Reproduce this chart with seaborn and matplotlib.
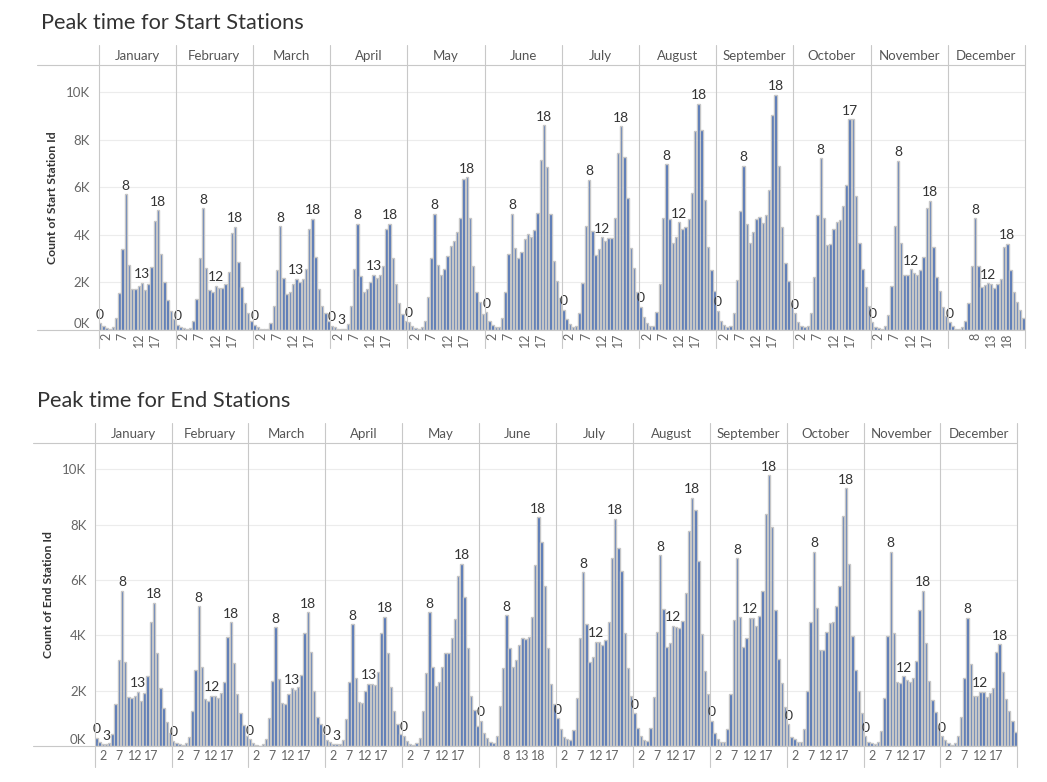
import matplotlib
matplotlib.use("Agg")
import matplotlib.pyplot as plt
import seaborn as sns
import pandas as pd
from matplotlib.lines import Line2D

W, H = 1047, 782

months = ["January", "February", "March", "April", "May", "June", "July",
          "August", "September", "October", "November", "December"]
hours = list(range(24))

# counts (thousands) per hour 0..23, start stations
start_jan = [0.28, 0.17, 0.07, 0.04, 0.11, 0.49, 1.54, 3.42, 5.71, 2.72, 1.71, 1.71, 1.87, 1.99, 1.67, 1.92, 2.64, 4.57, 5.03, 3.18, 2.00, 1.26, 0.80, 0.45]
start_feb = [0.21, 0.11, 0.07, 0.03, 0.07, 0.39, 1.29, 3.02, 5.12, 2.59, 1.67, 1.61, 1.87, 1.75, 1.75, 1.92, 2.43, 4.07, 4.33, 2.85, 1.80, 1.12, 0.73, 0.39]
start_mar = [0.21, 0.14, 0.06, 0.03, 0.06, 0.31, 1.02, 2.54, 4.36, 2.20, 1.50, 1.58, 1.95, 2.16, 2.03, 2.16, 2.58, 4.26, 4.68, 3.09, 1.71, 1.02, 0.73, 0.38]
start_apr = [0.18, 0.14, 0.06, 0.06, 0.06, 0.27, 1.02, 2.58, 4.45, 2.29, 1.58, 1.71, 2.03, 2.33, 2.20, 2.33, 2.71, 4.26, 4.45, 3.04, 1.92, 1.12, 0.69, 0.39]
start_may = [0.33, 0.17, 0.07, 0.06, 0.11, 0.38, 1.37, 3.02, 4.88, 2.75, 2.30, 2.55, 3.13, 3.55, 3.73, 4.14, 4.70, 6.34, 6.42, 4.70, 2.71, 1.61, 1.16, 0.66]
start_jun = [0.74, 0.39, 0.20, 0.14, 0.11, 0.49, 1.58, 3.18, 4.88, 3.44, 3.02, 3.27, 3.82, 4.03, 3.90, 4.19, 4.92, 7.15, 8.61, 6.87, 4.88, 2.90, 2.05, 1.36]
start_jul = [0.84, 0.45, 0.25, 0.14, 0.18, 0.70, 1.96, 4.36, 6.31, 4.18, 3.16, 3.41, 3.90, 3.76, 3.86, 3.88, 4.70, 7.43, 8.57, 7.29, 5.57, 3.44, 2.59, 1.58]
start_aug = [0.98, 0.53, 0.28, 0.18, 0.18, 0.77, 1.92, 4.70, 6.97, 4.66, 3.65, 3.90, 4.53, 4.24, 4.35, 4.66, 5.75, 8.37, 9.50, 8.41, 5.47, 3.48, 2.52, 1.64]
start_sep = [0.80, 0.39, 0.21, 0.14, 0.17, 0.70, 2.10, 5.01, 6.90, 4.45, 3.65, 4.11, 4.66, 4.75, 4.52, 4.84, 5.89, 9.05, 9.89, 6.90, 4.33, 2.83, 2.06, 1.15]
start_oct = [0.70, 0.35, 0.18, 0.11, 0.18, 0.70, 2.22, 4.84, 7.22, 4.70, 3.58, 3.61, 4.24, 4.54, 4.63, 5.22, 6.09, 8.86, 8.86, 5.65, 3.65, 2.55, 1.82, 1.02]
start_nov = [0.32, 0.14, 0.10, 0.06, 0.17, 0.62, 1.85, 4.38, 7.11, 3.65, 2.30, 2.30, 2.55, 2.38, 2.30, 2.52, 3.06, 5.13, 5.43, 3.48, 2.22, 1.65, 0.98, 0.59]
start_dec = [0.32, 0.18, 0.06, 0.03, 0.11, 0.39, 1.12, 2.71, 4.70, 2.71, 1.80, 1.88, 1.96, 1.92, 1.77, 1.92, 2.13, 3.48, 3.61, 2.52, 1.61, 1.19, 0.84, 0.49]

# counts (thousands) per hour 0..23, end stations
end_jan = [0.29, 0.17, 0.07, 0.07, 0.11, 0.43, 1.51, 3.10, 5.60, 3.03, 1.77, 1.74, 1.83, 1.97, 1.65, 1.91, 2.55, 4.47, 5.16, 3.37, 2.09, 1.37, 0.87, 0.47]
end_feb = [0.19, 0.11, 0.07, 0.05, 0.11, 0.32, 1.27, 2.75, 5.05, 2.85, 1.70, 1.64, 1.83, 1.83, 1.73, 1.91, 2.32, 3.93, 4.47, 2.99, 1.88, 1.19, 0.77, 0.38]
end_mar = [0.25, 0.13, 0.05, 0.02, 0.08, 0.26, 1.01, 2.36, 4.29, 2.43, 1.55, 1.51, 1.88, 2.09, 2.02, 2.13, 2.57, 4.07, 4.83, 3.39, 2.00, 1.07, 0.79, 0.43]
end_apr = [0.23, 0.17, 0.07, 0.07, 0.07, 0.23, 0.99, 2.33, 4.40, 2.48, 1.59, 1.55, 2.00, 2.24, 2.24, 2.21, 2.67, 4.07, 4.68, 3.35, 2.15, 1.27, 0.79, 0.43]
end_may = [0.38, 0.19, 0.10, 0.05, 0.12, 0.31, 1.27, 2.63, 4.83, 2.87, 2.19, 2.31, 2.87, 3.35, 3.37, 3.92, 4.58, 6.15, 6.59, 5.40, 3.53, 1.83, 1.30, 0.75]
end_jun = [0.93, 0.49, 0.29, 0.17, 0.13, 0.38, 1.45, 2.81, 4.72, 3.53, 2.87, 3.13, 3.67, 3.89, 3.87, 3.93, 4.66, 6.53, 8.26, 7.38, 5.77, 3.56, 2.24, 1.54]
end_jul = [1.01, 0.63, 0.35, 0.26, 0.22, 0.59, 1.73, 3.89, 6.27, 4.40, 3.05, 3.21, 3.77, 3.77, 3.65, 3.82, 4.50, 6.78, 8.19, 7.17, 6.32, 4.10, 2.81, 1.81]
end_aug = [1.19, 0.65, 0.38, 0.23, 0.19, 0.65, 1.77, 4.13, 6.89, 4.94, 3.59, 3.71, 4.33, 4.30, 4.25, 4.53, 5.54, 7.78, 8.97, 8.51, 6.68, 4.04, 2.70, 1.88]
end_sep = [0.91, 0.47, 0.25, 0.14, 0.17, 0.63, 1.88, 4.57, 6.78, 4.66, 3.57, 3.89, 4.62, 4.62, 4.35, 4.69, 5.60, 8.38, 9.77, 7.90, 4.90, 3.14, 2.28, 1.41]
end_oct = [0.79, 0.35, 0.25, 0.17, 0.17, 0.63, 2.00, 4.47, 7.01, 4.98, 3.47, 3.49, 4.11, 4.44, 4.50, 5.05, 5.80, 8.31, 9.30, 6.56, 3.98, 2.74, 2.00, 1.19]
end_nov = [0.36, 0.17, 0.12, 0.07, 0.17, 0.55, 1.73, 3.98, 7.01, 4.07, 2.31, 2.27, 2.52, 2.40, 2.31, 2.45, 3.08, 4.90, 5.60, 3.71, 2.36, 1.66, 1.23, 0.65]
end_dec = [0.36, 0.23, 0.11, 0.05, 0.13, 0.36, 1.07, 2.45, 4.62, 2.96, 1.83, 1.83, 1.95, 1.95, 1.79, 1.91, 2.12, 3.39, 3.68, 2.67, 1.69, 1.27, 0.91, 0.53]

# hours that carry a mark label
start_marked = [[0, 8, 13, 18], [0, 8, 12, 18], [0, 8, 13, 18], [0, 3, 8, 13, 18],
                [0, 8, 18], [0, 8, 18], [0, 8, 12, 18], [0, 8, 12, 18],
                [0, 8, 18], [0, 8, 17], [0, 8, 12, 18], [0, 8, 12, 18]]
end_marked = [[0, 3, 8, 13, 18], [0, 8, 12, 18], [0, 8, 13, 18], [0, 3, 8, 13, 18],
              [0, 8, 18], [0, 8, 18], [0, 8, 12, 18], [0, 8, 12, 18],
              [0, 8, 12, 18], [0, 8, 18], [0, 8, 12, 18], [0, 8, 12, 18]]

default_ticks = [2, 7, 12, 17]
alt_ticks = [8, 13, 18]
start_tick_months = {"December": alt_ticks}
end_tick_months = {"June": alt_ticks}

y_ticks = [0, 2, 4, 6, 8, 10]

BLUE = "#4a6fb5"
EDGE = "#c6c6c6"
LINE = "#c8c8c8"

sns.set_style("white")
plt.rcParams["font.family"] = ["Lato", "DejaVu Sans"]


def fx(x):
    return x / W


def fy(y):
    return 1 - y / H


def draw_panel(fig, counts, marked, tick_map, g):
    cw = (g["x1"] - g["x0"]) / 12
    for i, month in enumerate(months):
        left = g["x0"] + i * cw
        ax = fig.add_axes([fx(left), fy(g["base"]), cw / W, (g["base"] - g["head"]) / H])
        df = pd.DataFrame({"hour": hours, "count": counts[i]})
        sns.barplot(data=df, x="hour", y="count", ax=ax, color=BLUE, saturation=1,
                    width=0.75, edgecolor=EDGE, linewidth=1.0)
        ax.set_xlim(-0.5, 23.5)
        ax.set_ylim(0, g["ymax"])
        ax.set_xlabel("")
        ax.set_ylabel("")
        ax.set_yticks(y_ticks)
        ax.yaxis.grid(True, color="#ececec", lw=0.8)
        ax.set_axisbelow(True)
        for s in ax.spines.values():
            s.set_visible(False)
        ticks = tick_map.get(month, default_ticks)
        ax.set_xticks(ticks)
        ax.set_xticklabels([str(t) for t in ticks], rotation=g["rot"],
                           fontsize=9, color="#666666")
        ax.tick_params(axis="x", length=0, pad=g["xpad"])
        ax.tick_params(axis="y", length=0, pad=g["ypad"])
        if i == 0:
            labs = ax.set_yticklabels([f"{t}K" for t in y_ticks], fontsize=9.5, color="#666666")
            labs[0].set_va("bottom")
        else:
            ax.set_yticklabels([])
        for h in marked[i]:
            ax.annotate(str(h), (h, counts[i][h]), xytext=(0, 2), textcoords="offset points",
                        ha="center", va="bottom", fontsize=10, color="#333333")
        fig.text(fx(left + cw / 2), fy((g["top"] + g["head"]) / 2 + 1), month,
                 ha="center", va="center", fontsize=9.5, color="#555555")

    for i in range(13):
        x = fx(g["x0"] + i * cw)
        fig.add_artist(Line2D([x, x], [fy(g["top"]), fy(g["sep_end"])], color=LINE, lw=0.8))
    for y in (g["head"], g["base"]):
        fig.add_artist(Line2D([fx(g["lx"]), fx(g["x1"])], [fy(y), fy(y)], color=LINE, lw=0.8))

    fig.text(fx(g["tx"]), fy(g["ty"]), g["title"], ha="left", va="center",
             fontsize=15.7, color="#333333")
    fig.text(fx(g["ylx"]), fy((g["head"] + g["base"]) / 2), g["ylabel"], rotation=90,
             ha="center", va="center", fontsize=8.8, fontweight="bold", color="#333333")


fig = plt.figure(figsize=(W / 100, H / 100), dpi=100)

start_counts = [start_jan, start_feb, start_mar, start_apr, start_may, start_jun,
                start_jul, start_aug, start_sep, start_oct, start_nov, start_dec]
end_counts = [end_jan, end_feb, end_mar, end_apr, end_may, end_jun,
              end_jul, end_aug, end_sep, end_oct, end_nov, end_dec]

top_geom = dict(x0=98.5, x1=1025, top=45, head=65, base=330, ymax=11.15, sep_end=348,
                lx=37, rot=90, xpad=2, ypad=6, tx=41, ty=23,
                title="Peak time for Start Stations", ylx=53,
                ylabel="Count of Start Station Id")
bottom_geom = dict(x0=94.7, x1=1017.3, top=423, head=443.3, base=746.3, ymax=10.93,
                   sep_end=767, lx=33, rot=0, xpad=3, ypad=6, tx=37, ty=401,
                   title="Peak time for End Stations", ylx=49,
                   ylabel="Count of End Station Id")

draw_panel(fig, start_counts, start_marked, start_tick_months, top_geom)
draw_panel(fig, end_counts, end_marked, end_tick_months, bottom_geom)

fig.savefig("out.png", dpi=100)
